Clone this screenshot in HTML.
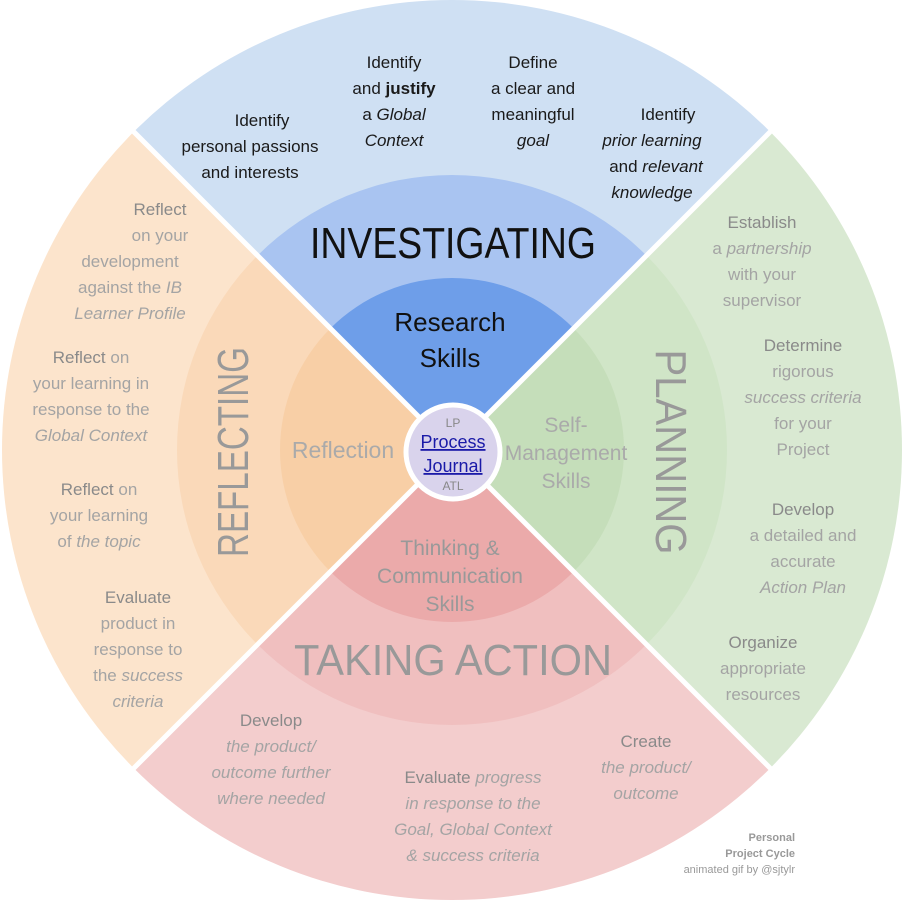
<!DOCTYPE html>
<html><head><meta charset="utf-8"><style>
html,body{margin:0;padding:0;background:#fff;}
svg{display:block;}
text{font-family:"Liberation Sans",sans-serif;}
.b{fill:#1a1a1a;font-size:17px;}
.g{fill:#a4a4a4;font-size:17px;}
.i{font-style:italic;}
.k{fill:#8a8a8a;}
</style></head><body>
<svg width="904" height="901" viewBox="0 0 904 901" xmlns="http://www.w3.org/2000/svg">
<defs>
<clipPath id="qt"><polygon points="452,450 -100,-102 1004,-102"/></clipPath>
<clipPath id="qr"><polygon points="452,450 1004,-102 1004,1002"/></clipPath>
<clipPath id="qb"><polygon points="452,450 1004,1002 -100,1002"/></clipPath>
<clipPath id="ql"><polygon points="452,450 -100,1002 -100,-102"/></clipPath>
</defs>
<g clip-path="url(#qt)"><circle cx="452" cy="450" r="450" fill="#cfe0f3"/><circle cx="452" cy="450" r="275" fill="#a9c4f1"/><circle cx="452" cy="450" r="172" fill="#6e9ee9"/></g>
<g clip-path="url(#qr)"><circle cx="452" cy="450" r="450" fill="#d9e9d2"/><circle cx="452" cy="450" r="275" fill="#d0e5c7"/><circle cx="452" cy="450" r="172" fill="#c5deba"/></g>
<g clip-path="url(#qb)"><circle cx="452" cy="450" r="450" fill="#f3cdcd"/><circle cx="452" cy="450" r="275" fill="#f0bfbf"/><circle cx="452" cy="450" r="172" fill="#ebaaaa"/></g>
<g clip-path="url(#ql)"><circle cx="452" cy="450" r="450" fill="#fce4cc"/><circle cx="452" cy="450" r="275" fill="#fad9b9"/><circle cx="452" cy="450" r="172" fill="#f8cfa6"/></g>
<line x1="130" y1="128" x2="774" y2="772" stroke="#fff" stroke-width="5"/>
<line x1="774" y1="128" x2="130" y2="772" stroke="#fff" stroke-width="5"/>
<circle cx="453" cy="452" r="47" fill="#d9d3ec" stroke="#fff" stroke-width="5"/>
<text x="453" y="427" text-anchor="middle" font-size="12" fill="#888">LP</text>
<text x="453" y="448" text-anchor="middle" font-size="18" fill="#1a1aa8" text-decoration="underline">Process</text>
<text x="453" y="472" text-anchor="middle" font-size="18" fill="#1a1aa8" text-decoration="underline">Journal</text>
<text x="453" y="490" text-anchor="middle" font-size="12" fill="#888">ATL</text>

<text x="453" y="258" text-anchor="middle" font-size="44" fill="#111" textLength="286" lengthAdjust="spacingAndGlyphs">INVESTIGATING</text>
<text x="450" y="331" text-anchor="middle" font-size="26" fill="#111">Research</text>
<text x="450" y="367" text-anchor="middle" font-size="26" fill="#111">Skills</text>
<text x="453" y="675" text-anchor="middle" font-size="44" fill="#999" textLength="318" lengthAdjust="spacingAndGlyphs">TAKING ACTION</text>
<text x="450" y="555" text-anchor="middle" font-size="21" fill="#999">Thinking &amp;</text>
<text x="450" y="583" text-anchor="middle" font-size="21" fill="#999">Communication</text>
<text x="450" y="611" text-anchor="middle" font-size="21" fill="#999">Skills</text>
<text x="343" y="458" text-anchor="middle" font-size="23" fill="#aaa">Reflection</text>
<text x="566" y="432" text-anchor="middle" font-size="21" fill="#aaa">Self-</text>
<text x="566" y="460" text-anchor="middle" font-size="21" fill="#aaa">Management</text>
<text x="566" y="488" text-anchor="middle" font-size="21" fill="#aaa">Skills</text>
<text transform="translate(656,452) rotate(90)" text-anchor="middle" font-size="44" fill="#999" textLength="205" lengthAdjust="spacingAndGlyphs">PLANNING</text>
<text transform="translate(248,452) rotate(-90)" text-anchor="middle" font-size="44" fill="#999" textLength="210" lengthAdjust="spacingAndGlyphs">REFLECTING</text>

<g text-anchor="middle">
<text class="b" x="262" y="126">Identify</text>
<text class="b" x="250" y="152">personal passions</text>
<text class="b" x="250" y="178">and interests</text>
<text class="b" x="394" y="68">Identify</text>
<text class="b" x="394" y="94">and <tspan font-weight="bold">justify</tspan></text>
<text class="b" x="394" y="120">a <tspan class="i">Global</tspan></text>
<text class="b i" x="394" y="146">Context</text>
<text class="b" x="533" y="68">Define</text>
<text class="b" x="533" y="94">a clear and</text>
<text class="b" x="533" y="120">meaningful</text>
<text class="b i" x="533" y="146">goal</text>
<text class="b" x="668" y="120">Identify</text>
<text class="b i" x="652" y="146">prior learning</text>
<text class="b" x="656" y="172">and <tspan class="i">relevant</tspan></text>
<text class="b i" x="652" y="198">knowledge</text>

<text class="g k" x="762" y="228">Establish</text>
<text class="g" x="762" y="254">a <tspan class="i">partnership</tspan></text>
<text class="g" x="762" y="280">with your</text>
<text class="g" x="762" y="306">supervisor</text>
<text class="g k" x="803" y="351">Determine</text>
<text class="g" x="803" y="377">rigorous</text>
<text class="g i" x="803" y="403">success criteria</text>
<text class="g" x="803" y="429">for your</text>
<text class="g" x="803" y="455">Project</text>
<text class="g k" x="803" y="515">Develop</text>
<text class="g" x="803" y="541">a detailed and</text>
<text class="g" x="803" y="567">accurate</text>
<text class="g i" x="803" y="593">Action Plan</text>
<text class="g k" x="763" y="648">Organize</text>
<text class="g" x="763" y="674">appropriate</text>
<text class="g" x="763" y="700">resources</text>

<text class="g k" x="160" y="215">Reflect</text>
<text class="g" x="160" y="241">on your</text>
<text class="g" x="130" y="267">development</text>
<text class="g" x="130" y="293">against the <tspan class="i">IB</tspan></text>
<text class="g i" x="130" y="319">Learner Profile</text>
<text class="g" x="91" y="363"><tspan class="k">Reflect</tspan> on</text>
<text class="g" x="91" y="389">your learning in</text>
<text class="g" x="91" y="415">response to the</text>
<text class="g i" x="91" y="441">Global Context</text>
<text class="g" x="99" y="495"><tspan class="k">Reflect</tspan> on</text>
<text class="g" x="99" y="521">your learning</text>
<text class="g" x="99" y="547">of <tspan class="i">the topic</tspan></text>
<text class="g k" x="138" y="603">Evaluate</text>
<text class="g" x="138" y="629">product in</text>
<text class="g" x="138" y="655">response to</text>
<text class="g" x="138" y="681">the <tspan class="i">success</tspan></text>
<text class="g i" x="138" y="707">criteria</text>

<text class="g k" x="271" y="726">Develop</text>
<text class="g i" x="271" y="752">the product/</text>
<text class="g i" x="271" y="778">outcome further</text>
<text class="g i" x="271" y="804">where needed</text>
<text class="g" x="473" y="783"><tspan class="k">Evaluate</tspan> <tspan class="i">progress</tspan></text>
<text class="g i" x="473" y="809">in response to the</text>
<text class="g i" x="473" y="835">Goal, Global Context</text>
<text class="g i" x="473" y="861">&amp; success criteria</text>
<text class="g k" x="646" y="747">Create</text>
<text class="g i" x="646" y="773">the product/</text>
<text class="g i" x="646" y="799">outcome</text>
</g>
<g text-anchor="end" font-size="11" fill="#999">
<text x="795" y="841" font-weight="bold">Personal</text>
<text x="795" y="857" font-weight="bold">Project Cycle</text>
<text x="795" y="873">animated gif by @sjtylr</text>
</g>
</svg>
</body></html>
